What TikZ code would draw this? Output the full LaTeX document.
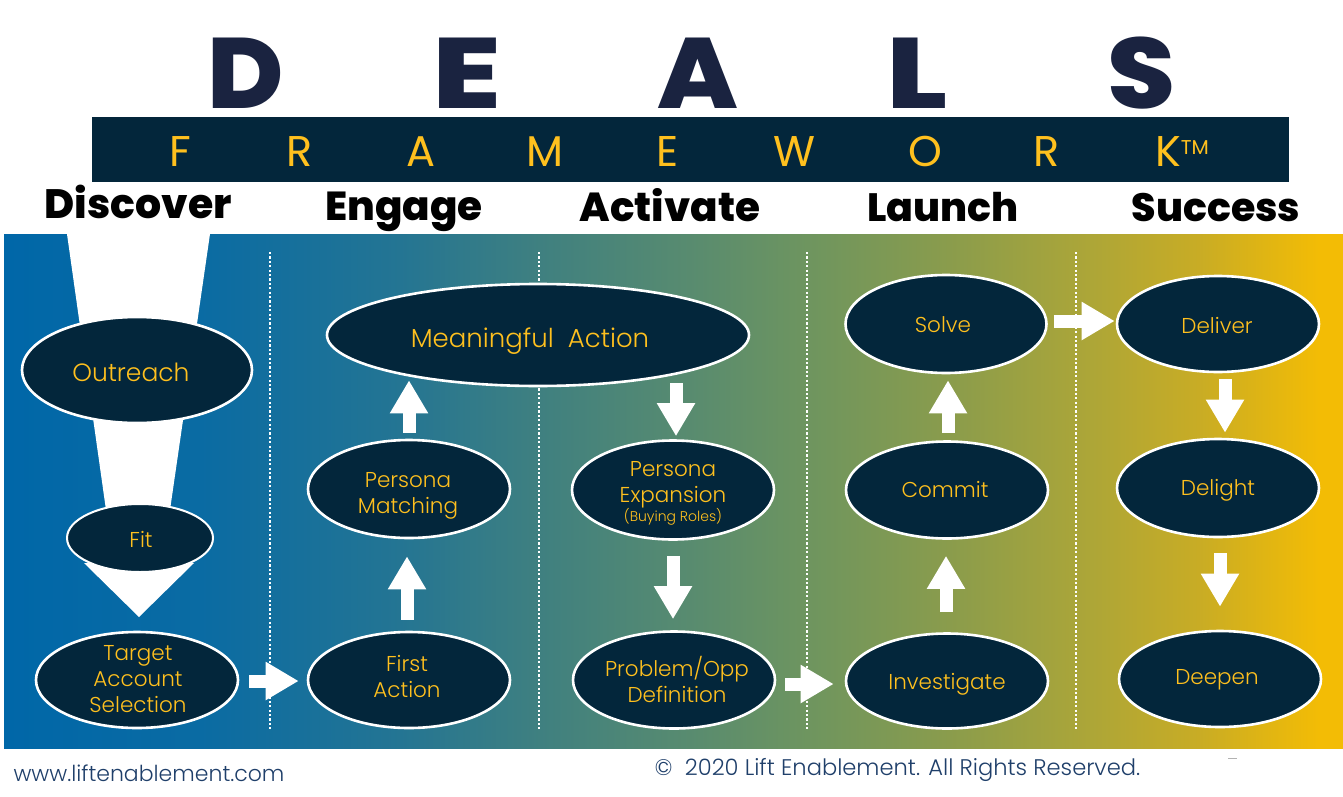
\documentclass[tikz,border=0pt]{standalone}
\usepackage{fontspec}
\setmainfont{Poppins}
\newfontfamily\lightf{Poppins Light}
\newfontfamily\heavyf{Poppins ExtraBold}
\usetikzlibrary{shapes.geometric,arrows.meta,calc}
\definecolor{navy}{HTML}{03263B}
\definecolor{titlec}{HTML}{1A2340}
\definecolor{gold}{HTML}{FFC01E}
\definecolor{foot}{HTML}{1F3F6A}
\definecolor{ga}{HTML}{0067A8}
\definecolor{gb}{HTML}{0A6BA3}
\definecolor{gc}{HTML}{247593}
\definecolor{gd}{HTML}{3F8080}
\definecolor{ge}{HTML}{5A8C6E}
\definecolor{gf}{HTML}{6E955F}
\definecolor{gg}{HTML}{8A9C4C}
\definecolor{gh}{HTML}{A9A53A}
\definecolor{gi}{HTML}{C8AC25}
\definecolor{gj}{HTML}{F3BC05}
\pgfdeclarehorizontalshading{dealsbg}{100bp}{
  color(0bp)=(ga);
  color(25bp)=(ga);
  color(32.3bp)=(gb);
  color(39.8bp)=(gc);
  color(45bp)=(gd);
  color(51bp)=(ge);
  color(55bp)=(gf);
  color(60.3bp)=(gg);
  color(65bp)=(gh);
  color(69.6bp)=(gi);
  color(74.1bp)=(gj);
  color(100bp)=(gj)}
\newcommand\lab[3]{\raisebox{\dimexpr-#2pt-7pt\relax}[0pt][0pt]{\makebox[0pt]{\hspace{#1pt}\hspace{#1pt}\begin{tabular}{@{}c@{}}#3\end{tabular}}}}
\tikzset{
  stage/.style={ellipse,draw=white,line width=2.6pt,fill=navy,text=gold,inner sep=0pt,
    minimum width=#1,font=\lightf\fontsize{21.5}{26}\selectfont},
  blockarrow/.style={draw=white,line width=13pt,-{Triangle[length=33pt,width=36pt,fill=white]}},
  bigletter/.style={anchor=base,text=titlec,transform shape,font=\heavyf\fontsize{100}{100}\selectfont},
  barletter/.style={anchor=base,text=gold,font=\fontsize{43}{43}\selectfont},
  phase/.style={anchor=base,text=black,font=\heavyf\fontsize{40.5}{41}\selectfont},
  divider/.style={white,line width=1.3pt,dash pattern=on 2.2pt off 2.2pt},
  footer/.style={anchor=base west,text=foot,font=\lightf\fontsize{22.6}{26}\selectfont}
}
\begin{document}
\begin{tikzpicture}[x=1pt,y=-1pt]
\useasboundingbox (0,0) rectangle (1343,797);
\fill[white] (0,0) rectangle (1343,797);
% title
\node[bigletter,xscale=1.04] (tD) at (246,109) {D};
\node[bigletter,xscale=1.26] (tE) at (467,109) {E};
\node[bigletter,xscale=1.07] (tA) at (698,109) {A};
\node[bigletter,xscale=1.25] (tL) at (917,109) {L};
\node[bigletter,xscale=1.1] (tS) at (1142,109) {S};
\fill[navy] (92,117) rectangle (1289,182);
\node[barletter] (b1) at (180,166) {F};
\node[barletter] (b2) at (300,166) {R};
\node[barletter] (b3) at (421,166) {A};
\node[barletter] (b4) at (545,166) {M};
\node[barletter] (b5) at (668,166) {E};
\node[barletter] (b6) at (794,166) {W};
\node[barletter] (b7) at (925,166) {O};
\node[barletter] (b8) at (1047,166) {R};
\node[barletter] (b9) at (1182,166) {K\raisebox{12pt}{\fontsize{20}{20}\selectfont TM}};
\node[phase,font=\heavyf\fontsize{41}{41}\selectfont] (pD) at (138,218) {Discover};
\node[phase] (pE) at (404,220) {Engage};
\node[phase] (pA) at (670,221) {Activate};
\node[phase,font=\heavyf\fontsize{39.5}{41}\selectfont] (pL) at (943,221) {Launch};
\node[phase,font=\heavyf\fontsize{39.5}{41}\selectfont] (pS) at (1216,221) {Success};
% background
\shade[shading=dealsbg] (4,234) rectangle (1343,748);
\foreach \x in {270,539,807,1076} \draw[divider] (\x,252) -- (\x,729);
% funnel
\fill[white] (67,234) -- (210,234) -- (170,510) -- (106,510) -- cycle;
\fill[white] (84,563) -- (194,563) -- (139,617) -- cycle;
% stages
\node[stage=230pt,minimum height=106pt,font=\lightf\fontsize{25}{30}\selectfont] (outreach) at (137,370) {\lab{-6}{5}{Outreach}};
\node[stage=146pt,minimum height=68pt,line width=2pt] (fit) at (140,538) {\lab{1}{2}{Fit}};
\node[stage=202pt,minimum height=96pt] (target) at (137,680) {\lab{1}{-1}{Target\\Account\\Selection}};
\node[stage=202pt,minimum height=96pt] (first) at (409,680) {\lab{-2}{-3}{First\\Action}};
\node[stage=202pt,minimum height=98pt] (match) at (409,489) {\lab{-1}{4}{Persona\\Matching}};
\node[stage=422pt,minimum height=102pt,font=\lightf\fontsize{26}{30}\selectfont] (meaning) at (538,335) {\lab{-8}{6}{Meaningful\ \ Action}};
\node[stage=202pt,minimum height=99pt] (expand) at (673,490) {\lab{0}{1.5}{Persona\\Expansion\\[-7pt]{\fontsize{14}{14}\selectfont(Buying Roles)}}};
\node[stage=202pt,minimum height=97pt] (problem) at (674,680) {\lab{3}{1}{Problem/Opp\\Definition}};
\node[stage=202pt,minimum height=95pt] (invest) at (947,681) {\lab{0}{1}{Investigate}};
\node[stage=202pt,minimum height=97pt] (commit) at (947,490) {\lab{-2}{0}{Commit}};
\node[stage=201pt,minimum height=98pt] (solve) at (946,324) {\lab{-3}{1}{Solve}};
\node[stage=202pt,minimum height=96pt] (deliver) at (1218,324) {\lab{-1}{2}{Deliver}};
\node[stage=202pt,minimum height=98pt] (delight) at (1218,488) {\lab{0}{0}{Delight}};
\node[stage=202pt,minimum height=96pt] (deepen) at (1220,679) {\lab{-3}{-2}{Deepen}};
% arrows
\draw[blockarrow] ($(target.east)+(10,1)$) -- ($(first.west)+(-8,1)$);
\draw[blockarrow] ($(first.north)+(-2,-11)$) -- ($(match.south)+(-2,17)$);
\draw[blockarrow] ($(match.north)+(0,-6)$) -- ($(meaning.south)+(-129,-7)$);
\draw[blockarrow] ($(meaning.south)+(138,-4)$) -- ($(expand.north)+(3,-3)$);
\draw[blockarrow] ($(expand.south)+(0,15)$) -- ($(problem.north)+(-1,-11)$);
\draw[blockarrow] ($(problem.east)+(9,4)$) -- ($(invest.west)+(-11,3)$);
\draw[blockarrow] ($(invest.north)+(-1,-20)$) -- ($(commit.south)+(-1,16)$);
\draw[blockarrow] ($(commit.north)+(1,-7)$) -- ($(solve.south)+(2,6)$);
\draw[blockarrow] ($(solve.east)+(6,-3)$) -- ($(deliver.west)+(-1,-3)$);
\draw[blockarrow] ($(deliver.south)+(7,6)$) -- ($(delight.north)+(7,-5)$);
\draw[blockarrow] ($(delight.south)+(2,15)$) -- ($(deepen.north)+(0,-23)$);
% footer
\node[footer,font=\lightf\fontsize{22}{26}\selectfont] (web) at (10,781) {www.liftenablement.com};
\node[footer] (copy) at (651,775) {©\ \ 2020 Lift Enablement. All Rights Reserved.};
\draw[gray!60,line width=0.8pt] (1228,758) -- (1237,758);
\end{tikzpicture}
\end{document}
